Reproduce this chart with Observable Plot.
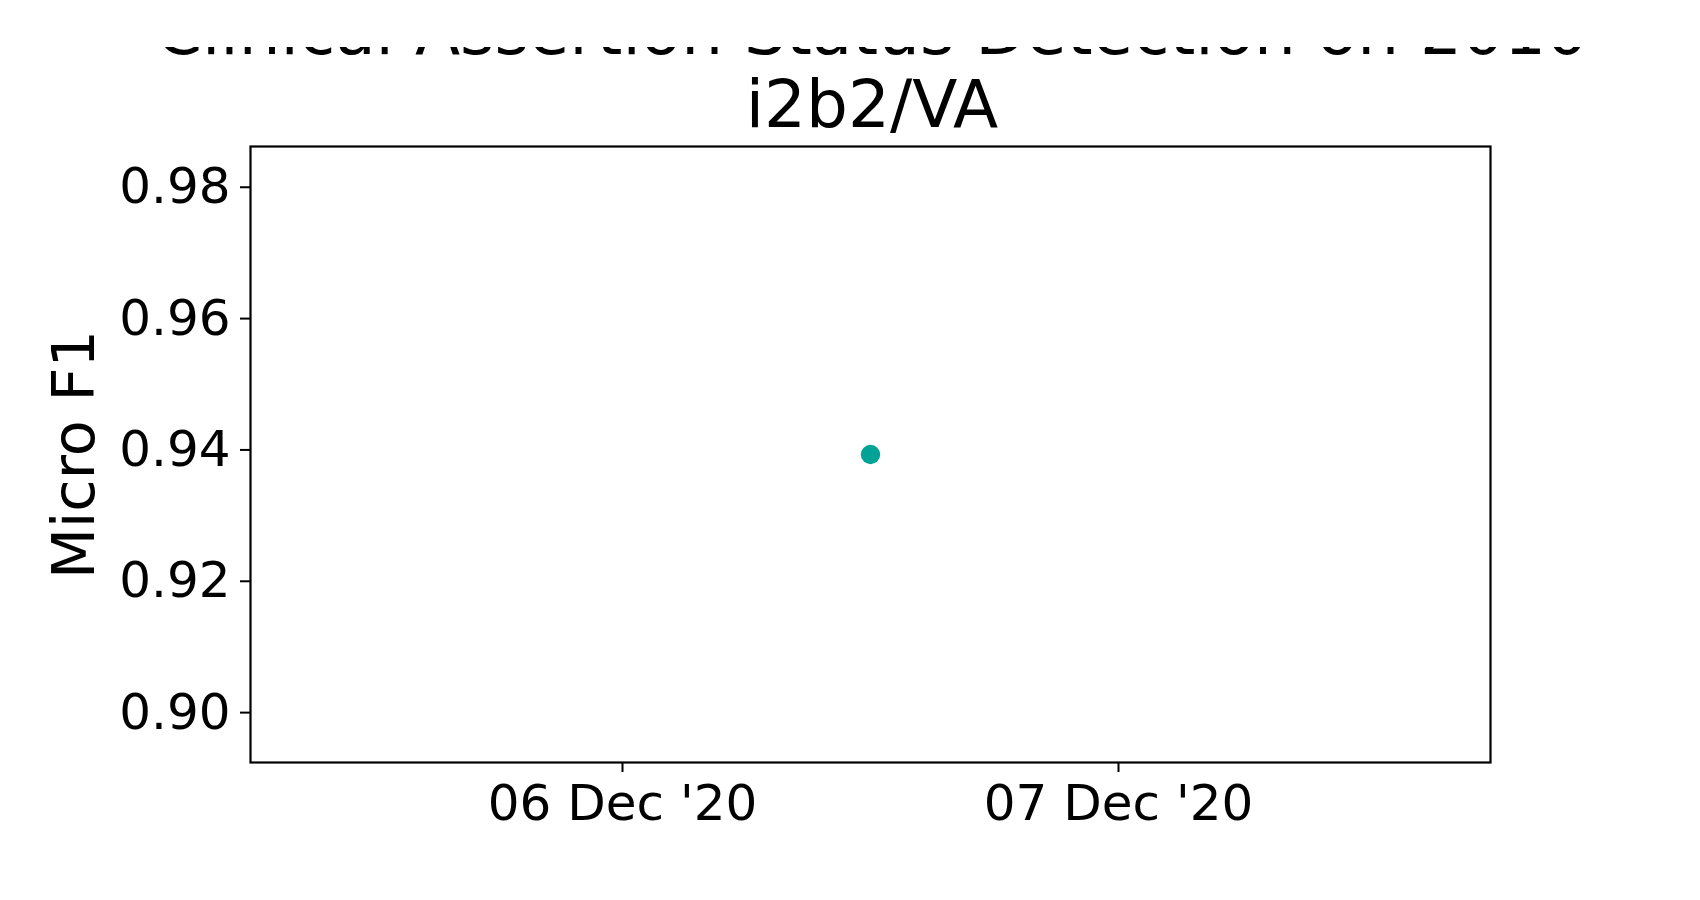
<!DOCTYPE html>
<html>
<head>
<meta charset="utf-8">
<script src="https://cdn.jsdelivr.net/npm/d3@7"></script>
<script src="https://cdn.jsdelivr.net/npm/@observablehq/plot@0.6"></script>
<style>
  html, body { margin: 0; padding: 0; background: white; overflow: hidden; }
  #wrap { position: relative; width: 1700px; height: 900px; font-family: "DejaVu Sans", sans-serif; }
  #titleClip { position: absolute; left: 0; top: 47px; width: 1700px; height: 100px; overflow: hidden; z-index: 2; }
  .tline { position: absolute; left: 0; width: 1744px; text-align: center; font-size: 66px; line-height: 66px; color: black; white-space: nowrap; }
  #chart { position: absolute; left: 0; top: 0; }
</style>
</head>
<body>
<div id="wrap">
  <div id="titleClip">
    <div class="tline" id="t1" style="top:-47.8px">Clinical Assertion Status Detection on 2010</div>
    <div class="tline" id="t2" style="top:25.2px">i2b2/VA</div>
  </div>
  <div id="chart"></div>
</div>
<script>
// ---- data ----
const runDates = ["2020-12-06T12:00:00Z"];
const microF1 = [0.939];
const xTickDates = ["2020-12-06T00:00:00Z", "2020-12-07T00:00:00Z"];
const yTickValues = [0.90, 0.92, 0.94, 0.96, 0.98];
const xDomain = ["2020-12-05T06:00:00Z", "2020-12-07T18:00:00Z"];
const yDomain = [0.8921, 0.9859];
const yLabel = "Micro F1";

const data = runDates.map((d, i) => ({date: new Date(d), f1: microF1[i]}));

const chart = Plot.plot({
  width: 1700,
  height: 900,
  marginTop: 146,
  marginBottom: 138,
  marginLeft: 250,
  marginRight: 210,
  style: {fontFamily: "DejaVu Sans", fontSize: "50px", color: "black", background: "white", overflow: "visible"},
  x: {type: "utc", domain: xDomain.map(d => new Date(d))},
  y: {domain: yDomain},
  marks: [
    Plot.frame({stroke: "black", strokeWidth: 2.2}),
    Plot.axisX({
      ticks: xTickDates.map(d => new Date(d)),
      tickFormat: d3.utcFormat("%d %b '%y"),
      tickSize: 10, tickPadding: 12, strokeWidth: 2,
      label: null, fontSize: 50
    }),
    Plot.axisY({
      ticks: yTickValues,
      tickFormat: d3.format(".2f"),
      tickSize: 10, tickPadding: 10, strokeWidth: 2,
      label: null, fontSize: 50, dy: 2
    }),
    Plot.dot(data, {x: "date", y: "f1", r: 9.7, fill: "#00a396", stroke: null}),
    Plot.text([yLabel], {frameAnchor: "left", text: d => d, rotate: -90, dx: -175, fontSize: 59, textAnchor: "middle", lineAnchor: "middle", fill: "black"})
  ]
});
document.getElementById("chart").appendChild(chart);
</script>
</body>
</html>
